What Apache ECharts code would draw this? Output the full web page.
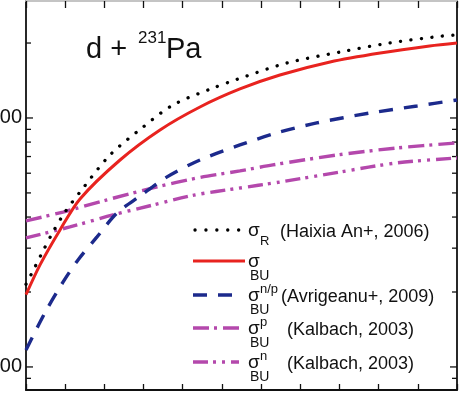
<!DOCTYPE html>
<html>
<head>
<meta charset="utf-8">
<script src="https://cdn.jsdelivr.net/npm/echarts@6/dist/echarts.min.js"></script>
<style>
html,body{margin:0;padding:0;background:#fff;}
#chart{width:474px;height:393px;}
</style>
</head>
<body>
<div id="chart"></div>
<script>
// ---- data (x: energy-like axis units, y: cross section, log scale) ----
const xSigmaR = [0, 0.77, 2.04, 3.45, 4.98, 6.89, 10.72, 14.8, 18.76, 23.9, 26.9, 33.3, 40.1, 46.4, 53.2, 55];
const ySigmaR = [215, 239, 287, 349, 419, 504, 710, 912, 1128, 1320, 1428, 1663, 1841, 2001, 2135, 2154];

const xSigmaBU = [0, 1.79, 4.34, 6.89, 12.0, 17.1, 22.2, 27.3, 32.4, 38.8, 45.2, 51.5, 55];
const ySigmaBU = [195, 257, 355, 473, 678, 895, 1107, 1308, 1488, 1679, 1824, 1946, 2000];

const xSigmaNP = [0, 2.42, 4.72, 6.64, 9.06, 11.6, 14.55, 18.0, 22.2, 27.3, 32.0, 37.1, 43.9, 49.9, 55];
const ySigmaNP = [117, 165, 219, 269, 333, 415, 486, 580, 678, 779, 871, 955, 1047, 1117, 1181];

const xSigmaP = [0, 4.72, 10.34, 16.2, 22.2, 27.3, 31.5, 39.7, 47.35, 55];
const ySigmaP = [386, 419, 469, 524, 577, 613, 648, 710, 758, 794];

const xSigmaN = [0, 5.6, 11.1, 16.2, 21.6, 26.9, 32.4, 40.1, 47.35, 55];
const ySigmaN = [330, 365, 408, 447, 491, 521, 553, 607, 660, 691];

const yMajorTicks = [100, 1000];
const yMajorLabels = ['100', '1000'];
const yMinorTicks = [90, 200, 300, 400, 500, 600, 700, 800, 900, 2000];

const xMin = 0, xMax = 55, xStep = 5;
const yMin = 80.8, yMax = 2950;

const FONT = "'Liberation Sans', Arial, sans-serif";
const RED = '#e8231f', BLUE = '#1c2a8c', MAG = '#b448ac';

function pairs(xs, ys) { return xs.map((x, i) => [x, ys[i]]); }

const tickData = yMajorTicks.map((v, i) => [xMin, v, 1, i]).concat(yMinorTicks.map(v => [xMin, v, 0, -1]));

const chart = echarts.init(document.getElementById('chart'), null, {renderer: 'canvas'});

function lineSeries(name, xs, ys, style) {
  return {
    name: name, type: 'line', data: pairs(xs, ys), smooth: 0.3,
    symbol: 'none', showSymbol: false, silent: true,
    lineStyle: style
  };
}

const hiddenY = {axisTick: {show: false}, axisLabel: {show: false}, splitLine: {show: false}};

const option = {
  animation: false,
  backgroundColor: '#fff',
  grid: {left: 26, right: 17, top: 1, bottom: 3, show: false},
  xAxis: [
    {type: 'value', min: xMin, max: xMax, interval: xStep, position: 'bottom',
     axisLine: {show: true, onZero: false, lineStyle: {color: '#111', width: 1.8}}, axisLabel: {show: false}, splitLine: {show: false},
     axisTick: {show: true, inside: true, length: 6, lineStyle: {color: '#111', width: 1.3}}},
    {type: 'value', min: xMin, max: xMax, interval: xStep, position: 'top',
     axisLine: {show: true, onZero: false, lineStyle: {color: '#c4c4c4', width: 2}}, axisLabel: {show: false}, splitLine: {show: false},
     axisTick: {show: true, inside: true, length: 7, lineStyle: {color: '#111', width: 1.3}}}
  ],
  yAxis: [
    Object.assign({type: 'log', logBase: 10, min: yMin, max: yMax, position: 'left',
      axisLine: {show: true, onZero: false, lineStyle: {color: '#111', width: 1.8}}}, hiddenY),
    Object.assign({type: 'log', logBase: 10, min: yMin, max: yMax, position: 'right',
      axisLine: {show: true, onZero: false, lineStyle: {color: '#111', width: 1.8}}}, hiddenY)
  ],
  series: [
    lineSeries('sigmaN', xSigmaN, ySigmaN, {color: MAG, width: 3.4, type: [15, 5, 3, 6, 3, 6]}),
    lineSeries('sigmaP', xSigmaP, ySigmaP, {color: MAG, width: 3.4, type: [16, 5, 3, 6]}),
    lineSeries('sigmaNP', xSigmaNP, ySigmaNP, {color: BLUE, width: 3.4, type: [14, 11]}),
    lineSeries('sigmaBU', xSigmaBU, ySigmaBU, {color: RED, width: 3, type: 'solid'}),
    lineSeries('sigmaR', xSigmaR, ySigmaR, {color: '#000', width: 3.3, type: [0.1, 10.4], cap: 'round'}),
    {
      type: 'custom', silent: true, clip: false,
      data: tickData,
      renderItem: function (params, api) {
        const v = api.value(1);
        const major = api.value(2) === 1;
        const idx = api.value(3);
        const pL = api.coord([xMin, v]);
        const pR = api.coord([xMax, v]);
        const len = major ? 7 : 5;
        const children = [
          {type: 'line', shape: {x1: pL[0], y1: pL[1], x2: pL[0] + len, y2: pL[1]}, style: {stroke: '#111', lineWidth: 1.3}},
          {type: 'line', shape: {x1: pR[0] - len, y1: pR[1], x2: pR[0], y2: pR[1]}, style: {stroke: '#111', lineWidth: 1.3}}
        ];
        if (major) {
          children.push({type: 'text', style: {text: yMajorLabels[idx], x: pL[0] - 4, y: pL[1], align: 'right', verticalAlign: 'middle',
            fontSize: 20, fontFamily: FONT, fill: '#111'}});
        }
        return {type: 'group', children: children};
      }
    }
  ],
  graphic: []
};

// title
const g = option.graphic;
g.push({type: 'text', x: 86, y: 50, style: {text: 'd + ', fontSize: 29, fontFamily: FONT, fill: '#111', align: 'left', verticalAlign: 'middle'}});
g.push({type: 'text', x: 138, y: 38, style: {text: '231', fontSize: 17, fontFamily: FONT, fill: '#111', align: 'left', verticalAlign: 'middle'}});
g.push({type: 'text', x: 166, y: 50, style: {text: 'Pa', fontSize: 29, fontFamily: FONT, fill: '#111', align: 'left', verticalAlign: 'middle'}});

// legend
const legendRows = [
  {y: 230, stroke: '#000', dash: [0.1, 10.8], cap: 'round', w: 3.3, x2: 240, sup: '', sub: 'R', text: '(Haixia An+, 2006)', tx: 280},
  {y: 261, stroke: RED, dash: null, cap: 'butt', w: 3, x2: 245, sup: '', sub: 'BU', text: '', tx: 280},
  {y: 295, stroke: BLUE, dash: [14, 11], cap: 'butt', w: 3.4, x2: 232, sup: 'n/p', sub: 'BU', text: '(Avrigeanu+, 2009)', tx: 281},
  {y: 328, stroke: MAG, dash: [16, 5, 3, 6], cap: 'butt', w: 3.4, x2: 239, sup: 'p', sub: 'BU', text: '(Kalbach, 2003)', tx: 287},
  {y: 362, stroke: MAG, dash: [15, 5, 3, 6, 3, 6], cap: 'butt', w: 3.4, x2: 239, sup: 'n', sub: 'BU', text: '(Kalbach, 2003)', tx: 287}
];
legendRows.forEach(r => {
  const ls = {stroke: r.stroke, lineWidth: r.w, lineCap: r.cap};
  if (r.dash) ls.lineDash = r.dash;
  g.push({type: 'line', shape: {x1: r.cap === 'round' ? 195 : 193, y1: r.y, x2: r.x2, y2: r.y}, style: ls});
  g.push({type: 'text', x: 248, y: r.y + 1, style: {text: 'σ', fontSize: 19, fontFamily: FONT, fill: '#111', align: 'left', verticalAlign: 'middle'}});
  if (r.sub === 'R') {
    g.push({type: 'text', x: 260, y: r.y + 11, style: {text: 'R', fontSize: 13, fontFamily: FONT, fill: '#111', align: 'left', verticalAlign: 'middle'}});
  } else {
    g.push({type: 'text', x: 250, y: r.y + 15, style: {text: r.sub, fontSize: 14, fontFamily: FONT, fill: '#111', align: 'left', verticalAlign: 'middle'}});
  }
  if (r.sup) {
    g.push({type: 'text', x: 260, y: r.y - 6, style: {text: r.sup, fontSize: 13, fontFamily: FONT, fill: '#111', align: 'left', verticalAlign: 'middle'}});
  }
  if (r.text) {
    g.push({type: 'text', x: r.tx, y: r.y + 2, style: {text: r.text, fontSize: 18, fontFamily: FONT, fill: '#111', align: 'left', verticalAlign: 'middle'}});
  }
});

chart.setOption(option);
</script>
</body>
</html>
